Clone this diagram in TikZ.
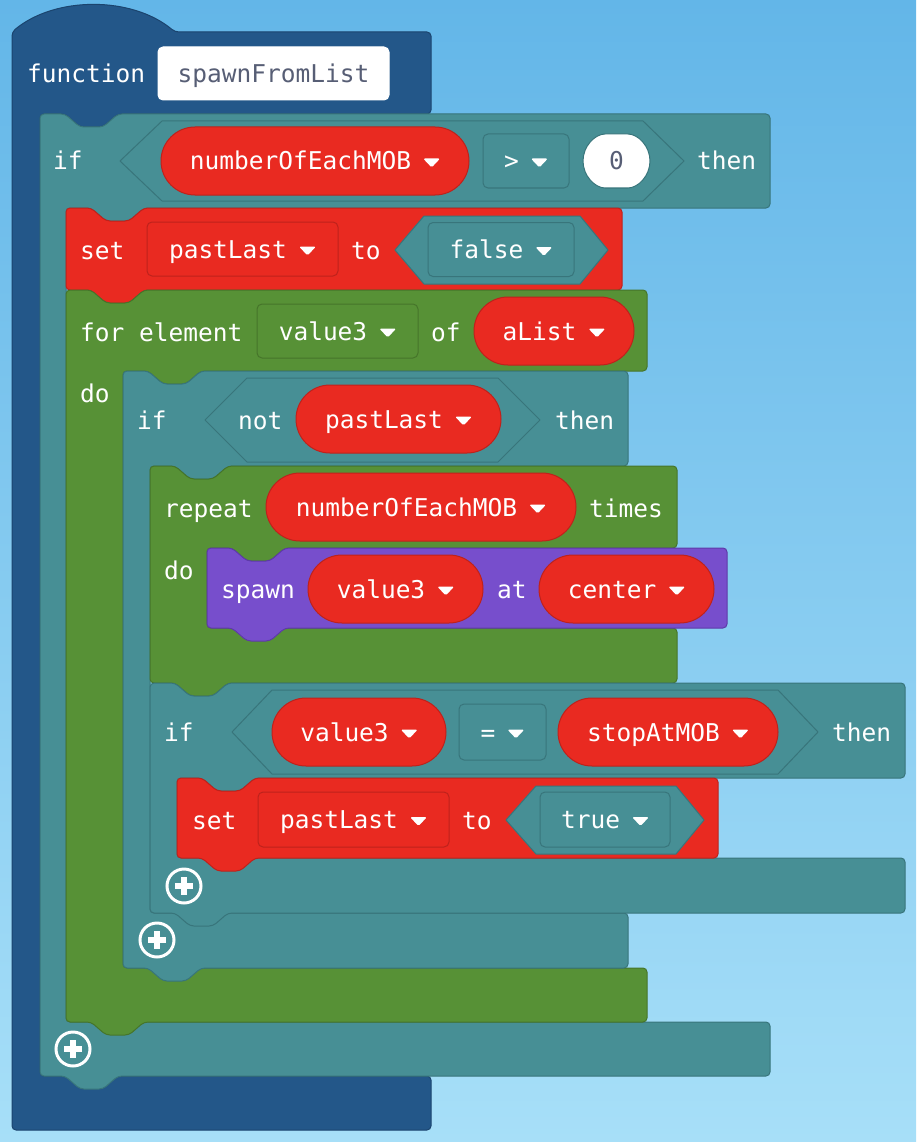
\documentclass[tikz,border=0pt]{standalone}
\usepackage{fontspec}
\newfontfamily\blockfont{DejaVu Sans Mono}
\usetikzlibrary{shapes.misc}

\definecolor{bgtop}{RGB}{99,182,232}
\definecolor{bgbot}{RGB}{167,223,248}
\definecolor{fnblue}{RGB}{35,87,137}
\definecolor{fnline}{RGB}{27,68,110}
\definecolor{logic}{RGB}{71,143,149}
\definecolor{logicline}{RGB}{56,117,123}
\definecolor{varred}{RGB}{233,42,33}
\definecolor{varline}{RGB}{190,34,28}
\definecolor{loopgreen}{RGB}{87,145,54}
\definecolor{loopline}{RGB}{70,117,42}
\definecolor{sprite}{RGB}{119,78,204}
\definecolor{spriteline}{RGB}{94,58,168}
\definecolor{fieldgray}{RGB}{87,94,117}

% dropdown arrow and block notches
\newcommand{\dd}{\hspace{12pt}\tikz[x=1pt,y=1pt,baseline=0pt]\fill[white,rounded corners=1.5pt] (0,11.5) -- (17,11.5) -- (8.5,2.5) -- cycle;}
\newcommand{\notchR}[2]{-- ({#1+25},#2) -- ({#1+40},{#2+13}) -- ({#1+63},{#2+13}) -- ({#1+78},#2)}
\newcommand{\notchL}[2]{-- ({#1+78},#2) -- ({#1+63},{#2+13}) -- ({#1+40},{#2+13}) -- ({#1+25},#2)}

\begin{document}
\begin{tikzpicture}[x=1pt,y=-1pt,
    blk/.style={line width=1pt, rounded corners=4pt, line join=round},
    lbl/.style={anchor=west, inner sep=0pt, text=white, font=\blockfont\fontsize{24.5}{29}\selectfont, text height=21pt, text depth=3pt},
    pill/.style={lbl, anchor=center, rounded rectangle, fill=varred, draw=varline, line width=1pt, minimum height=68pt},
    fld/.style={lbl, anchor=center, rectangle, rounded corners=5pt, line width=1pt, minimum height=54pt},
    cond/.style={fill=logic, draw=logicline, line width=1pt, line join=round},
    addc/.style={draw=white, line width=3pt},
    addp/.style={draw=white, line width=6pt}
]
\path[top color=bgtop, bottom color=bgbot] (0,0) rectangle (916,1142);
\useasboundingbox (0,0) rectangle (916,1142);

% function
\draw[blk, fill=fnblue, draw=fnline] (12,32) .. controls (55,-4) and (132,-4) .. (175,32) -- (431,32) -- (431,114) \notchL{40}{114} -- (40,114) -- (40,1076) -- (431,1076) -- (431,1130) -- (12,1130) -- cycle;
\node[lbl] (lfunc) at (27,74) {function};
\node[fld, fill=white, draw=white, text=fieldgray, minimum width=231pt, minimum height=53pt] (fname) at (273.5,73.5) {spawnFromList};

% if numberOfEachMOB > 0
\draw[blk, fill=logic, draw=logicline] (40,114) \notchR{40}{114} -- (770,114) -- (770,208) \notchL{66}{208} -- (66,208) -- (66,1022) -- (770,1022) -- (770,1076) \notchL{40}{1076} -- (40,1076) -- cycle;
\draw[cond] (120,161) -- (162,121) -- (643,121) -- (684,161) -- (643,201) -- (162,201) -- cycle;
\node[lbl] (lif1) at (53,161) {if};
\node[pill, minimum width=308pt] (num1) at (315,161) {numberOfEachMOB\dd};
\node[fld, fill=logic, draw=logicline, minimum width=86pt] (gt) at (526,161) {>\dd};
\node[fld, rounded rectangle, fill=white, draw=logicline, text=fieldgray, minimum width=67pt] (zero) at (616.5,161) {0};
\node[lbl] (lthen1) at (697,161) {then};

% set pastLast to false
\draw[blk, fill=varred, draw=varline] (66,208) \notchR{66}{208} -- (622,208) -- (622,290) \notchL{66}{290} -- (66,290) -- cycle;
\node[lbl] (lset1) at (80,250) {set};
\node[fld, fill=varred, draw=varline, minimum width=191pt] (past1) at (242.5,249) {pastLast\dd};
\node[lbl] (lto1) at (351,250) {to};
\draw[cond] (395,250) -- (424,216) -- (580,216) -- (608,250) -- (580,284) -- (424,284) -- cycle;
\node[fld, fill=logic, draw=logicline, minimum width=146pt] (false) at (501,249.5) {false\dd};

% for element
\draw[blk, fill=loopgreen, draw=loopline] (66,290) \notchR{66}{290} -- (647,290) -- (647,371) \notchL{123}{371} -- (123,371) -- (123,968) -- (647,968) -- (647,1022) \notchL{66}{1022} -- (66,1022) -- cycle;
\node[lbl] (lfor) at (80,332) {for element};
\node[fld, fill=loopgreen, draw=loopline, minimum width=161pt] (val1) at (337.5,331) {value3\dd};
\node[lbl] (lof) at (431,332) {of};
\node[pill, minimum width=160pt] (alist) at (554,331) {aList\dd};
\node[lbl] (ldo1) at (80,393) {do};

% if not pastLast
\draw[blk, fill=logic, draw=logicline] (123,371) \notchR{123}{371} -- (628,371) -- (628,466) \notchL{150}{466} -- (150,466) -- (150,913) -- (628,913) -- (628,968) \notchL{123}{968} -- (123,968) -- cycle;
\draw[cond] (205,420) -- (247,378) -- (498,378) -- (540,420) -- (498,462) -- (247,462) -- cycle;
\node[lbl] (lif2) at (137,420) {if};
\node[lbl] (lnot) at (238,420) {not};
\node[pill, minimum width=205pt] (past2) at (398.5,419) {pastLast\dd};
\node[lbl] (lthen2) at (555,420) {then};

% repeat
\draw[blk, fill=loopgreen, draw=loopline] (150,466) \notchR{150}{466} -- (677,466) -- (677,548) \notchL{207}{548} -- (207,548) -- (207,628) -- (677,628) -- (677,683) \notchL{150}{683} -- (150,683) -- cycle;
\node[lbl] (lrep) at (164,508) {repeat};
\node[pill, minimum width=310pt] (num2) at (421,507) {numberOfEachMOB\dd};
\node[lbl] (ltimes) at (589,508) {times};
\node[lbl] (ldo2) at (164,570) {do};

% spawn
\draw[blk, fill=sprite, draw=spriteline] (207,548) \notchR{207}{548} -- (727,548) -- (727,628) \notchL{207}{628} -- (207,628) -- cycle;
\node[lbl] (lspawn) at (221,589) {spawn};
\node[pill, minimum width=175pt] (val2) at (395.5,589) {value3\dd};
\node[lbl] (lat) at (497,589) {at};
\node[pill, minimum width=175pt] (center) at (626.5,589) {center\dd};

% if value3 = stopAtMOB
\draw[blk, fill=logic, draw=logicline] (150,683) \notchR{150}{683} -- (905,683) -- (905,778) \notchL{177}{778} -- (177,778) -- (177,858) -- (905,858) -- (905,913) \notchL{150}{913} -- (150,913) -- cycle;
\draw[cond] (232,732) -- (272,690) -- (778,690) -- (818,732) -- (778,774) -- (272,774) -- cycle;
\node[lbl] (lif3) at (164,732) {if};
\node[pill, minimum width=174pt] (val3) at (359,732) {value3\dd};
\node[fld, fill=logic, draw=logicline, minimum width=87pt, minimum height=56pt] (eq) at (502.5,732) {=\dd};
\node[pill, minimum width=220pt] (stop) at (668,732) {stopAtMOB\dd};
\node[lbl] (lthen3) at (832,732) {then};

% set pastLast to true
\draw[blk, fill=varred, draw=varline] (177,778) \notchR{177}{778} -- (718,778) -- (718,858) \notchL{177}{858} -- (177,858) -- cycle;
\node[lbl] (lset2) at (192,820) {set};
\node[fld, fill=varred, draw=varline, minimum width=191pt, minimum height=55pt] (past3) at (353.5,819.5) {pastLast\dd};
\node[lbl] (lto2) at (462,820) {to};
\draw[cond] (506,820) -- (536,786) -- (676,786) -- (704,820) -- (676,854) -- (536,854) -- cycle;
\node[fld, fill=logic, draw=logicline, minimum width=130pt, minimum height=55pt] (true) at (605,819.5) {true\dd};

% add buttons
\foreach \px/\py in {184/886, 157/940, 73/1049} {
  \draw[addc] (\px,\py) circle (17);
  \draw[addp] ({\px-9},\py) -- ({\px+9},\py) (\px,{\py-9}) -- (\px,{\py+9});
}
\end{tikzpicture}
\end{document}
